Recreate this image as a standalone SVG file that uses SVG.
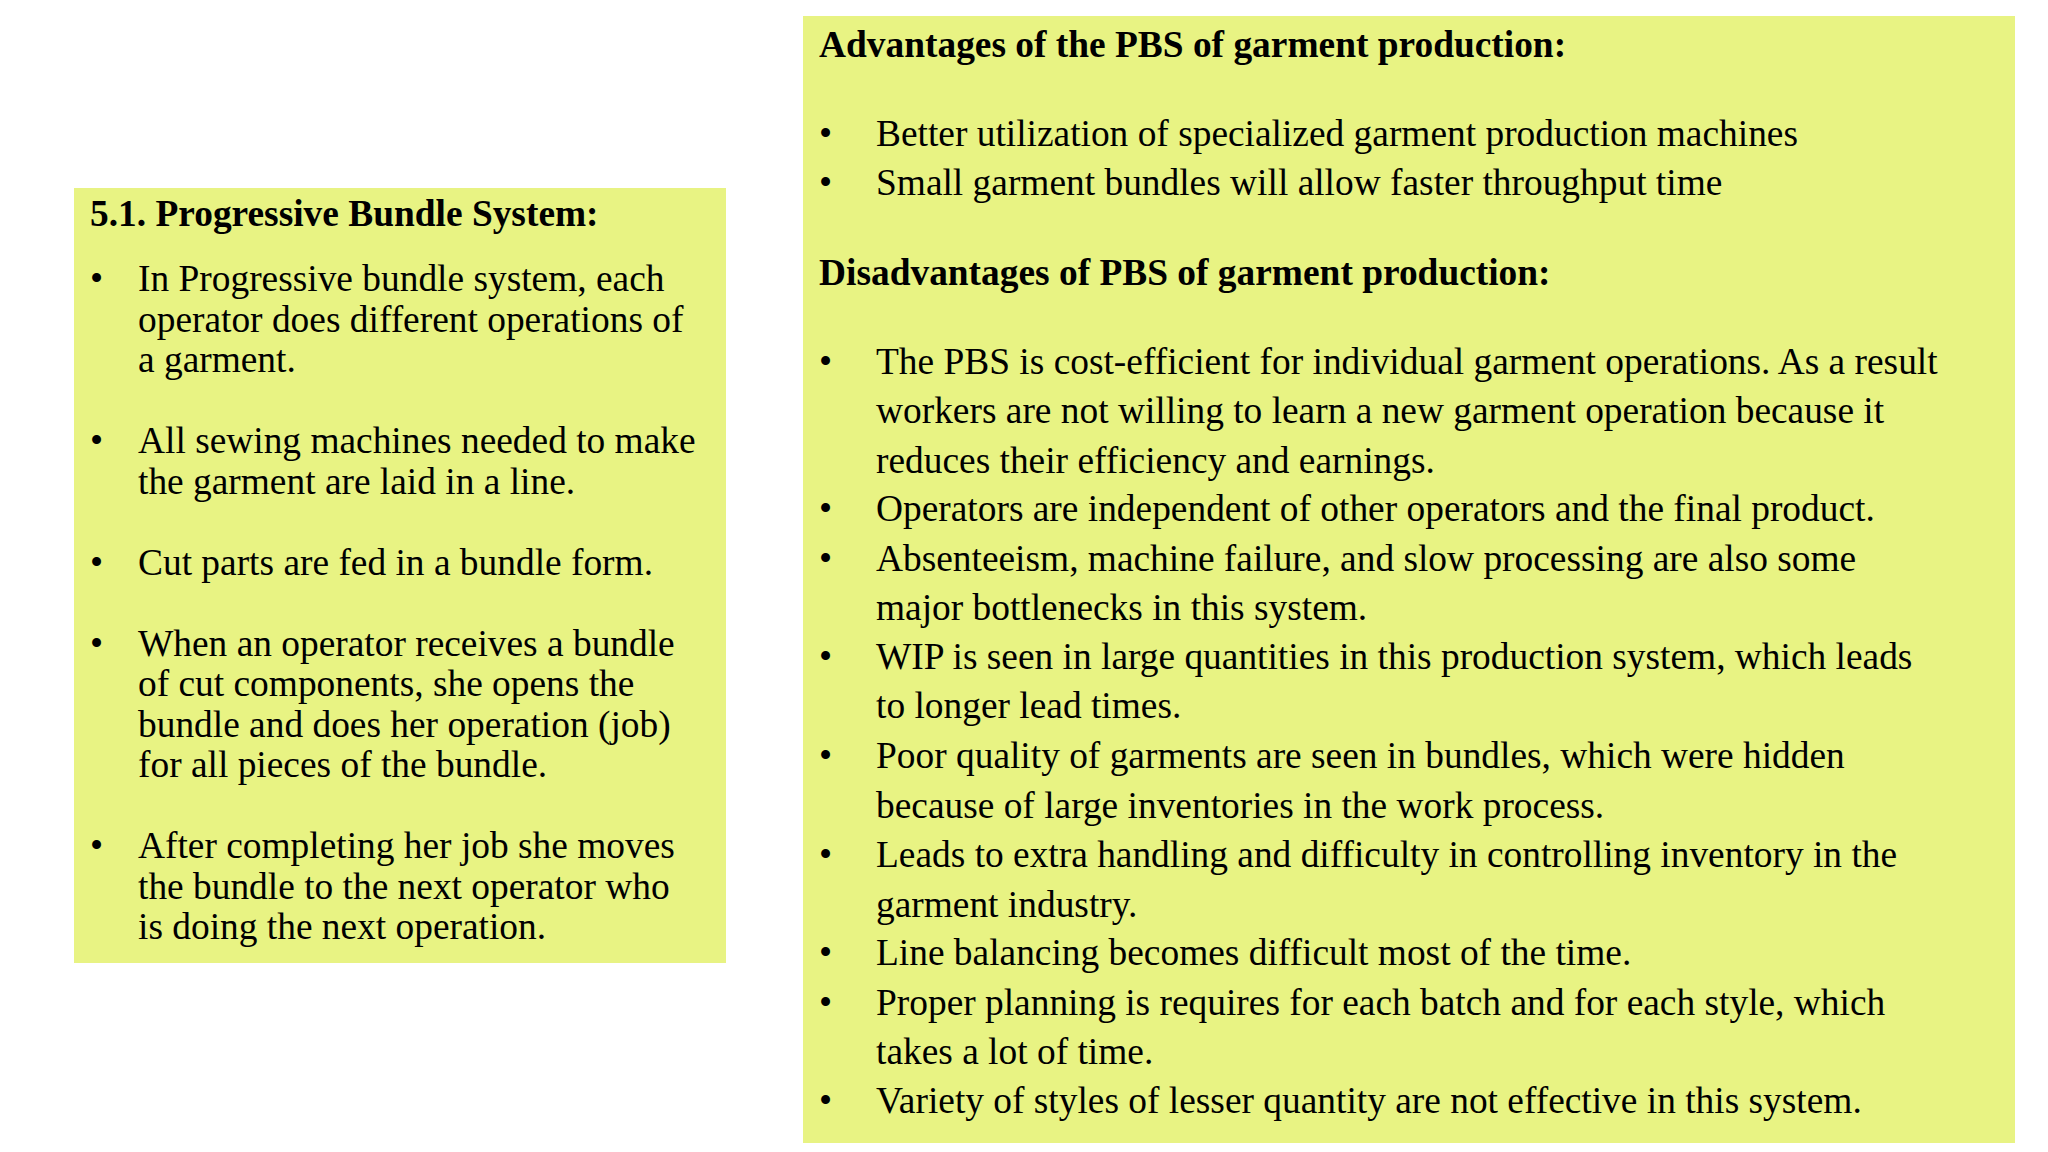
<svg xmlns="http://www.w3.org/2000/svg" width="2048" height="1152" viewBox="0 0 2048 1152">
<style>
text{font-family:"Liberation Serif","Times New Roman",serif;font-size:37.4px;fill:#000}
.b{font-weight:bold}
.box{fill:#E8F383}
</style>
<rect width="2048" height="1152" fill="#fff"/>
<g id="left">
<rect class="box" x="74" y="188" width="652" height="775"/>
<text class="b" x="90" y="226">5.1. Progressive Bundle System:</text>
<text x="90" y="291">•</text><text x="138" y="291">In Progressive bundle system, each</text>
<text x="138" y="332">operator does different operations of</text>
<text x="138" y="372">a garment.</text>
<text x="90" y="453">•</text><text x="138" y="453">All sewing machines needed to make</text>
<text x="138" y="494">the garment are laid in a line.</text>
<text x="90" y="575">•</text><text x="138" y="575">Cut parts are fed in a bundle form.</text>
<text x="90" y="656">•</text><text x="138" y="656">When an operator receives a bundle</text>
<text x="138" y="696">of cut components, she opens the</text>
<text x="138" y="737">bundle and does her operation (job)</text>
<text x="138" y="777">for all pieces of the bundle.</text>
<text x="90" y="858">•</text><text x="138" y="858">After completing her job she moves</text>
<text x="138" y="899">the bundle to the next operator who</text>
<text x="138" y="939">is doing the next operation.</text>
</g>
<g id="right">
<rect class="box" x="803" y="16" width="1212" height="1127"/>
<text class="b" x="819" y="57">Advantages of the PBS of garment production:</text>
<text x="819" y="146">•</text><text x="876" y="146">Better utilization of specialized garment production machines</text>
<text x="819" y="195">•</text><text x="876" y="195">Small garment bundles will allow faster throughput time</text>
<text class="b" x="819" y="285">Disadvantages of PBS of garment production:</text>
<text x="819" y="374">•</text><text x="876" y="374">The PBS is cost-efficient for individual garment operations. As a result</text>
<text x="876" y="423">workers are not willing to learn a new garment operation because it</text>
<text x="876" y="473">reduces their efficiency and earnings.</text>
<text x="819" y="521">•</text><text x="876" y="521">Operators are independent of other operators and the final product.</text>
<text x="819" y="571">•</text><text x="876" y="571">Absenteeism, machine failure, and slow processing are also some</text>
<text x="876" y="620">major bottlenecks in this system.</text>
<text x="819" y="669">•</text><text x="876" y="669">WIP is seen in large quantities in this production system, which leads</text>
<text x="876" y="718">to longer lead times.</text>
<text x="819" y="768">•</text><text x="876" y="768">Poor quality of garments are seen in bundles, which were hidden</text>
<text x="876" y="818">because of large inventories in the work process.</text>
<text x="819" y="867">•</text><text x="876" y="867">Leads to extra handling and difficulty in controlling inventory in the</text>
<text x="876" y="917">garment industry.</text>
<text x="819" y="965">•</text><text x="876" y="965">Line balancing becomes difficult most of the time.</text>
<text x="819" y="1015">•</text><text x="876" y="1015">Proper planning is requires for each batch and for each style, which</text>
<text x="876" y="1064">takes a lot of time.</text>
<text x="819" y="1113">•</text><text x="876" y="1113">Variety of styles of lesser quantity are not effective in this system.</text>
</g>
</svg>
